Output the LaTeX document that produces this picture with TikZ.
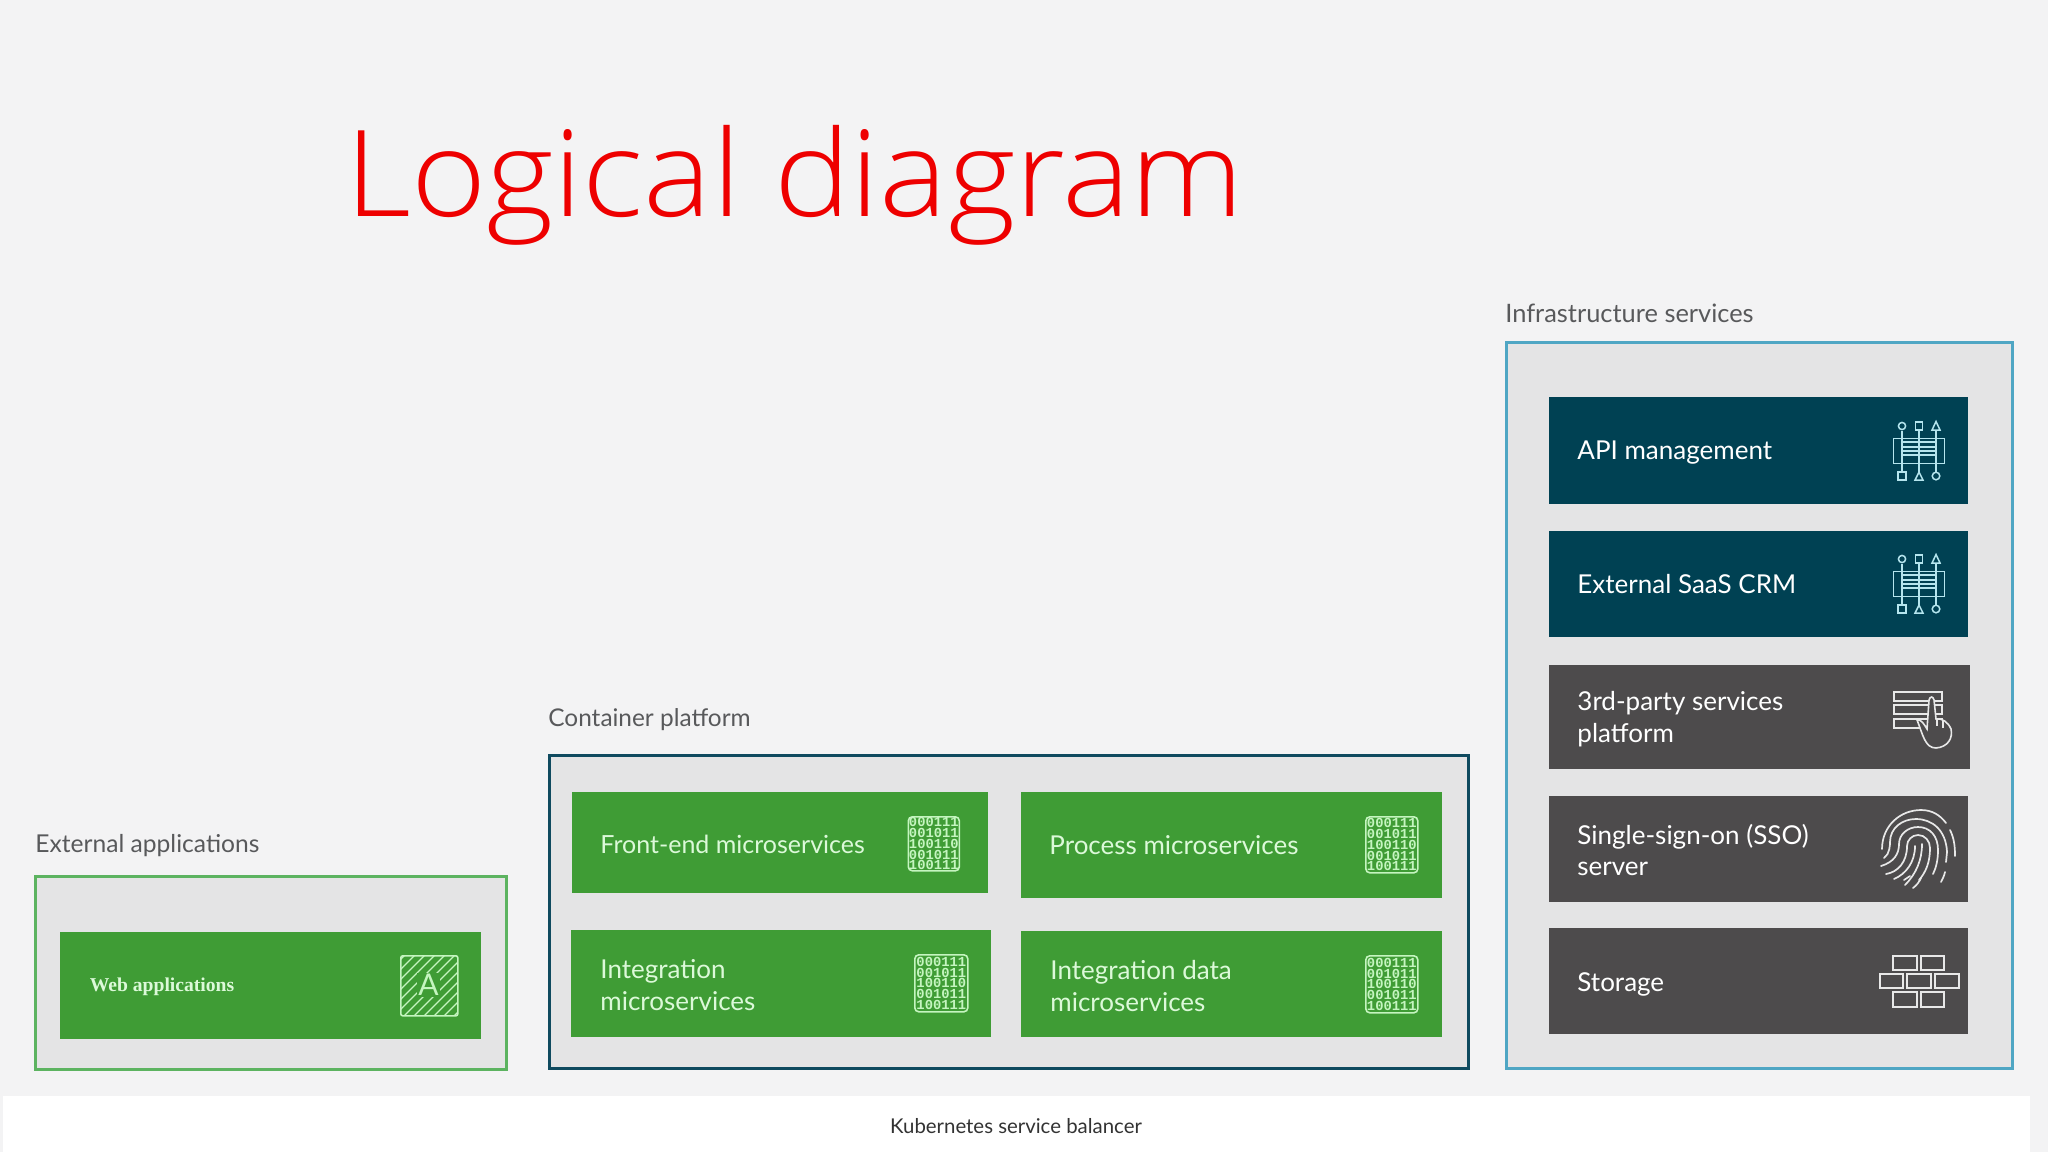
\documentclass[tikz,border=0pt]{standalone}
\usepackage{fontspec}
\setmainfont{Lato}
\setmonofont{Liberation Mono}[BoldFont={Liberation Mono Bold}]
\newfontfamily\serifbold{Liberation Serif Bold}
\newfontfamily\titlefont{Open Sans Light}
\definecolor{pagebg}{HTML}{F3F3F4}
\definecolor{panelbg}{HTML}{E4E4E5}
\definecolor{gboxc}{HTML}{3F9C35}
\definecolor{tboxc}{HTML}{004153}
\definecolor{dboxc}{HTML}{4D4B4C}
\definecolor{glight}{HTML}{C5F5C0}
\definecolor{tlight}{HTML}{B5E5EE}
\definecolor{dlight}{HTML}{E8E8E8}
\definecolor{capt}{HTML}{58595B}
\definecolor{titlered}{HTML}{EE0000}
\definecolor{bextern}{HTML}{5CB360}
\definecolor{bcontain}{HTML}{0F4A5F}
\definecolor{binfra}{HTML}{4FA6C4}
\tikzset{
  panel/.style={fill=panelbg,draw=#1,line width=1.5pt},
  gbox/.style={fill=gboxc},
  tbox/.style={fill=tboxc},
  dbox/.style={fill=dboxc},
  capn/.style={anchor=west,inner sep=0pt,text=capt,font=\fontsize{12.7}{13}\selectfont},
  lab/.style={anchor=west,inner sep=0pt,align=left,font=\fontsize{13}{15.8}\selectfont},
  glab/.style={lab,text=glight!60!white},
  tlab/.style={lab,text=white},
  dlab/.style={lab,text=white},
  gline/.style={draw=glight,line width=0.8pt},
  tline/.style={draw=tlight,line width=0.75pt},
  dline/.style={draw=dlight,line width=0.8pt},
  fline/.style={draw=dlight,line width=0.85pt,line cap=round},
}
\newcommand\bx[6]{\pgfmathsetmacro\bw{(#4-#2)*0.5}\pgfmathsetmacro\bh{(#5-#3)*0.5}%
  \node[#6,anchor=north west,minimum width=\bw pt,minimum height=\bh pt,inner sep=0pt,outer sep=0pt] (#1) at (#2,#3) {};}
\newcommand\binicon[5]{\pgfmathsetmacro\bw{(#4-#2)*0.5}\pgfmathsetmacro\bh{(#5-#3)*0.5}%
  \node[gline,rounded corners=2pt,anchor=north west,minimum width=\bw pt,minimum height=\bh pt,inner sep=0pt,align=center,text=glight,font=\fontsize{6.9}{5.4}\selectfont\ttfamily\bfseries] (#1) at (#2,#3) {000111\\001011\\100110\\001011\\100111};}
\newcommand\apiicon[2]{\begin{scope}[shift={(#1,#2)},tline]
  \draw (-25.5,-12.5) rectangle (25.5,12.5);
  \draw (-17,-9) -- (17,-9) (-17,-4) -- (17,-4) (-17,4) -- (17,4) (-17,0) -- (17,0);
  \draw (-17,-20) -- (-17,21) (0,-20) -- (0,21) (17,-20) -- (17,21);
  \draw[fill=tboxc] (-17,-25) circle[radius=3.6];
  \draw[fill=tboxc] (-3.5,-29) rectangle (3.5,-21);
  \draw[fill=tboxc] (17,-29.5) -- (21,-21) -- (13,-21) -- cycle;
  \draw[fill=tboxc] (-21,21) rectangle (-13,29);
  \draw[fill=tboxc] (0,21) -- (4,29) -- (-4,29) -- cycle;
  \draw[fill=tboxc] (17,25) circle[radius=3.8];
\end{scope}}
\begin{document}
\begin{tikzpicture}[x=0.5pt,y=-0.5pt]
\useasboundingbox (0,0) rectangle (2048,1152);
\fill[pagebg] (0,0) rectangle (2048,1152);
\node[anchor=base west,inner sep=0pt,text=titlered,font=\titlefont\fontsize{60}{60}\selectfont] (title) at (345,216) {\scalebox{1.071}[1]{Logical diagram}};

\bx{bar}{3}{1096}{2030}{1152}{fill=white}
\node[inner sep=0pt,text=black!80,font=\fontsize{10.2}{12}\selectfont] (barlabel) at (1016,1126) {Kubernetes service balancer};

% External applications
\node[capn,font=\fontsize{12.3}{13}\selectfont] (extcap) at (35,846) {External applications};
\bx{ext}{35}{876}{506}{1069}{panel=bextern}
\bx{web}{60}{932}{481}{1039}{gbox}
\node[anchor=west,inner sep=0pt,text=glight!60!white,font=\serifbold\fontsize{9.8}{12}\selectfont] (weblab) at (89.5,987) {Web applications};
\begin{scope}
  \clip (400,955) rectangle (457,1015);
  \foreach \d in {-60,-50,...,60}{\draw[gline,line width=0.6pt] (400+\d,1020) -- (400+\d+70,950);}
\end{scope}
\node[gline,rounded corners=1pt,anchor=north west,minimum width=28.5pt,minimum height=30pt,inner sep=0pt] (webicon) at (400,955) {};
\node[fill=gboxc,inner sep=0.6pt,text=glight,font=\fontsize{15}{15}\selectfont] (webA) at (428.5,985) {A};

% Container platform
\node[capn,font=\fontsize{12.2}{13}\selectfont] (concap) at (548,720) {Container platform};
\bx{con}{549}{755}{1468}{1068}{panel=bcontain}
\bx{front}{572}{792}{988}{893}{gbox}
\bx{proc}{1021}{792}{1442}{898}{gbox}
\bx{integ}{571}{930}{991}{1037}{gbox}
\bx{idata}{1021}{931}{1442}{1037}{gbox}
\node[glab,font=\fontsize{12.5}{15.8}\selectfont] (frontl) at (600,844) {Front-end microservices};
\node[glab] (procl) at (1049,845) {Process microservices};
\node[glab] (integl) at (600,985) {Integration\\microservices};
\node[glab] (idatal) at (1050,986) {Integration data\\microservices};
\binicon{fronti}{907.5}{816}{958.5}{870}
\binicon{proci}{1365}{816}{1417}{872}
\binicon{integi}{914}{954}{967}{1011}
\binicon{idatai}{1365}{955}{1417}{1012}

% Infrastructure services
\node[capn] (infcap) at (1505,313) {Infrastructure services};
\bx{inf}{1506}{342}{2012}{1068}{panel=binfra}
\bx{api}{1549}{397}{1968}{504}{tbox}
\bx{saas}{1549}{531}{1968}{637}{tbox}
\bx{third}{1549}{665}{1970}{769}{dbox}
\bx{sso}{1549}{796}{1968}{902}{dbox}
\bx{stor}{1549}{928}{1968}{1034}{dbox}
\node[tlab] (apil) at (1577,453) {API management};
\node[tlab] (saasl) at (1577,584) {External SaaS CRM};
\node[dlab] (thirdl) at (1577,719) {3rd-party services\\platform};
\node[dlab] (ssol) at (1577,850) {Single-sign-on (SSO)\\server};
\node[dlab] (storl) at (1577,984) {Storage};
\apiicon{1919}{451}
\apiicon{1919}{584}
% menu and hand icon
\begin{scope}[dline]
  \draw (1894,692) rectangle (1942,701);
  \draw (1894,705) rectangle (1942,714);
  \draw (1894,719) rectangle (1942,728);
  \draw[fill=dboxc] (1917,720) .. controls (1921,719) and (1924,724) .. (1927,729)
    -- (1929,700) .. controls (1930,696) and (1933,696) .. (1934,700)
    -- (1936,719) .. controls (1942,718) and (1948,722) .. (1951,729)
    .. controls (1953,738) and (1948,747) .. (1936,748)
    .. controls (1925,748) and (1923,735) .. (1917,720) -- cycle;
  \draw (1937,719) -- (1937,726) (1943,721) -- (1943,728);
\end{scope}
% fingerprint icon
\begin{scope}[shift={(1918,848)},y=0.5pt,fline]
  \draw (-36,-1) .. controls (-36,22) and (-18,38) .. (3,38) .. controls (14,38) and (22,33) .. (28,25);
  \draw (32,18) .. controls (36,10) and (37,2) .. (37,-8);
  \draw (-34,-10) .. controls (-28,-6) and (-28,4) .. (-28,6) .. controls (-28,20) and (-16,29) .. (-2,29) .. controls (14,29) and (28,18) .. (29,-4) -- (28,-14);
  \draw (27,-24) .. controls (26,-28) and (25,-30) .. (23,-34);
  \draw (-37,-18) .. controls (-24,-14) and (-19,-6) .. (-19,4) .. controls (-19,14) and (-10,21) .. (0,21) .. controls (12,21) and (20,12) .. (20,-2) .. controls (20,-12) and (18,-20) .. (15,-26);
  \draw (-32,-26) .. controls (-20,-24) and (-11,-14) .. (-11,2) .. controls (-11,8) and (-6,13) .. (0,13) .. controls (7,13) and (12,7) .. (12,0) .. controls (12,-14) and (8,-24) .. (1,-32);
  \draw (-24,-31) .. controls (-12,-26) and (-3,-14) .. (-3,2);
  \draw (4,4) .. controls (4,-12) and (-2,-26) .. (-13,-37);
  \draw (-5,-40) .. controls (-1,-37) and (1,-34) .. (3,-30);
  \draw (-14,-32) -- (-8,-28);
\end{scope}
% bricks icon
\begin{scope}[dline]
  \draw (1893,956) rectangle (1917,970);
  \draw (1921,956) rectangle (1944,970);
  \draw (1880,974) rectangle (1903,988);
  \draw (1907,974) rectangle (1931,988);
  \draw (1935,974) rectangle (1959,988);
  \draw (1893,992) rectangle (1917,1007);
  \draw (1921,992) rectangle (1944,1007);
\end{scope}
\end{tikzpicture}
\end{document}
